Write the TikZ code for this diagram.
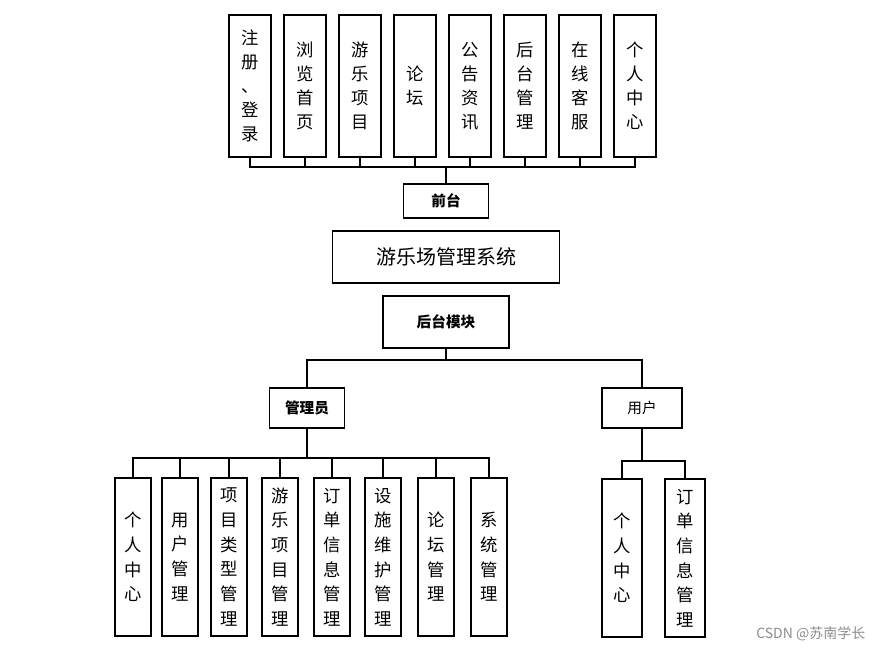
\documentclass[tikz,border=0pt]{standalone}
\usepackage{fontspec}
\setmainfont{Noto Sans CJK SC}
\usepackage{tikz}

\begin{document}
\begin{tikzpicture}[x=0.75pt, y=-0.75pt,
		box_style/.style={draw=black, line width=0.8pt, fill=white, inner sep=0pt, align=center},
		top_style/.style={box_style, minimum width=31.5pt, minimum height=106.5pt, font=\fontsize{13}{18}\selectfont},
		low_style/.style={box_style, minimum width=27pt, minimum height=118.5pt, font=\fontsize{13}{18.5}\selectfont},
		mid_style/.style={box_style, font=\fontsize{11}{13}\selectfont\bfseries},
		edge_style/.style={draw=black, line width=0.8pt}]
		\useasboundingbox (0,0) rectangle (884,652);

		% front end modules
		\node[top_style] (t1) at (250,86)  {注\\册\\、\\登\\录};
		\node[top_style] (t2) at (305,86)  {浏\\览\\首\\页};
		\node[top_style] (t3) at (360,86)  {游\\乐\\项\\目};
		\node[top_style] (t4) at (415,86)  {论\\坛};
		\node[top_style] (t5) at (470,86)  {公\\告\\资\\讯};
		\node[top_style] (t6) at (525,86)  {后\\台\\管\\理};
		\node[top_style] (t7) at (580,86)  {在\\线\\客\\服};
		\node[top_style] (t8) at (635,86)  {个\\人\\中\\心};

		\node[mid_style, minimum width=63.75pt, minimum height=25.5pt] (front) at (446,201) {前台};
		\node[box_style, minimum width=170pt, minimum height=39pt, font=\fontsize{15}{18}\selectfont] (sys) at (446,257) {游乐场管理系统};
		\node[mid_style, minimum width=94.5pt, minimum height=39pt] (back) at (446,322) {后台模块};
		\node[mid_style, minimum width=56pt, minimum height=30pt] (admin) at (307,408) {管理员};
		\node[box_style, minimum width=60pt, minimum height=30pt, font=\fontsize{11}{13}\selectfont] (user) at (642,408) {用户};

		% admin modules
		\node[low_style] (a1) at (133,557) {个\\人\\中\\心};
		\node[low_style] (a2) at (180,557) {用\\户\\管\\理};
		\node[low_style] (a3) at (229,557) {项\\目\\类\\型\\管\\理};
		\node[low_style] (a4) at (280,557) {游\\乐\\项\\目\\管\\理};
		\node[low_style] (a5) at (332,557) {订\\单\\信\\息\\管\\理};
		\node[low_style] (a6) at (383,557) {设\\施\\维\\护\\管\\理};
		\node[low_style] (a7) at (436,557) {论\\坛\\管\\理};
		\node[low_style] (a8) at (489,557) {系\\统\\管\\理};

		% user modules
		\node[low_style, minimum width=30pt] (u1) at (622,558) {个\\人\\中\\心};
		\node[low_style, minimum width=30pt] (u2) at (685,558) {订\\单\\信\\息\\管\\理};

		\coordinate (bus_top) at (446,167);
		\coordinate (bus_back) at (446,360);
		\coordinate (bus_admin) at (307,458);
		\coordinate (bus_user) at (642,461);

		\foreach \n in {t1,t2,t3,t4,t5,t6,t7,t8}
			\draw[edge_style] (\n.south) |- (bus_top);
		\draw[edge_style] (bus_top) -- (front.north);
		\draw[edge_style] (back.south) -- (bus_back);
		\draw[edge_style] (bus_back) -| (admin.north);
		\draw[edge_style] (bus_back) -| (user.north);
		\draw[edge_style] (admin.south) -- (bus_admin);
		\foreach \n in {a1,a2,a3,a4,a5,a6,a7,a8}
			\draw[edge_style] (bus_admin) -| (\n.north);
		\draw[edge_style] (user.south) -- (bus_user);
		\foreach \n in {u1,u2}
			\draw[edge_style] (bus_user) -| (\n.north);

		\node[text=black!45, font=\fontsize{10.5}{12}\selectfont, anchor=east] (mark) at (870,634) {CSDN @苏南学长};
\end{tikzpicture}
\end{document}
